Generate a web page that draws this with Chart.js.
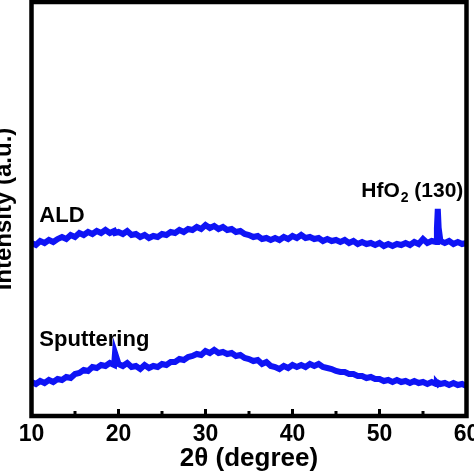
<!DOCTYPE html>
<html lang="en">

<head>
    <meta charset="UTF-8">
    <title>XRD</title>
    <script src="https://cdn.jsdelivr.net/npm/chart.js@4"></script>
    <style>
        html, body {
            margin: 0;
            padding: 0;
            background: #fff;
            overflow: hidden;
        }

        #wrap {
            width: 490px;
            height: 474px;
        }
    </style>
</head>

<body>
    <div id="wrap"><canvas id="xrd"></canvas></div>

    <script>
        // 2theta positions (degree)
        const angles = [10, 10.5, 11, 11.5, 12, 12.5, 13, 13.5, 14, 14.5, 15, 15.5, 16, 16.5, 17, 17.5, 18, 18.5, 19, 19.5, 19.6,
            20, 20.5, 21, 21.5, 22, 22.5, 23, 23.5, 24, 24.5, 25, 25.5, 26, 26.5, 27, 27.5, 28, 28.5, 29, 29.5,
            30, 30.5, 31, 31.5, 32, 32.5, 33, 33.5, 34, 34.5, 35, 35.5, 36, 36.5, 37, 37.5, 38, 38.5, 39, 39.5,
            40, 40.5, 41, 41.5, 42, 42.5, 43, 43.5, 44, 44.5, 45, 45.5, 46, 46.5, 47, 47.5, 48, 48.5, 49, 49.5,
            50, 50.5, 51, 51.5, 52, 52.5, 53, 53.5, 54, 54.5, 55, 55.5, 56, 56.5, 56.6, 56.7, 56.8,
            57, 57.5, 58, 58.5, 59, 59.5, 60];

        // intensity (a.u.), curves offset vertically
        const ald = [175, 173, 177, 175, 178, 176, 179, 181, 179, 183, 181, 185, 183, 186, 184, 187, 185, 188, 185, 187, 185,
            186, 184, 187, 183, 184, 181, 183, 180, 182, 181, 184, 183, 186, 185, 188, 186, 189, 188, 191, 189,
            193, 190, 192, 189, 191, 188, 189, 186, 187, 184, 183, 181, 182, 179, 180, 178, 180, 178, 181, 179,
            182, 180, 183, 180, 181, 179, 180, 177, 179, 177, 178, 176, 178, 175, 177, 174, 176, 174, 175, 173,
            175, 172, 174, 172, 174, 173, 175, 173, 176, 174, 179, 175, 177, 176, 190, 209, 190,
            177, 175, 177, 174, 176, 174, 175];

        const sputtering = [36, 34, 37, 35, 38, 36, 39, 38, 41, 40, 44, 45, 48, 47, 51, 50, 53, 52, 55, 53, 65,
            54, 52, 55, 51, 52, 49, 53, 50, 52, 51, 54, 53, 56, 56, 59, 58, 61, 62, 64, 63,
            67, 65, 68, 65, 66, 64, 65, 62, 63, 60, 59, 57, 58, 54, 56, 52, 51, 49, 52, 50,
            53, 51, 53, 51, 54, 52, 54, 51, 50, 49, 47, 46, 46, 44, 44, 42, 42, 40, 41, 39,
            39, 37, 38, 36, 38, 36, 37, 35, 37, 35, 36, 34, 36, 34, 35, 34, 35,
            34, 35, 33, 35, 33, 34, 32];

        const seriesNames = ['ALD', 'Sputtering'];
        const blue = 'rgb(15, 20, 245)';
        const font = 'Liberation Sans, Arial, sans-serif';

        const toPoints = (ys) => angles.map((a, i) => ({ x: a, y: ys[i] }));

        // text labels, anchored in data units
        const notes = [
            { text: 'ALD', x: 10.9, y: 196 },
            { text: 'Sputtering', x: 10.9, y: 72 }
        ];

        const framePlugin = {
            id: 'frame',
            afterDraw(chart) {
                const { ctx, chartArea: a, scales } = chart;
                const x = scales.x, y = scales.y;
                ctx.save();
                // inward ticks
                ctx.strokeStyle = '#000';
                ctx.lineWidth = 3;
                for (let v = 10; v <= 60; v += 5) {
                    const px = x.getPixelForValue(v);
                    const len = v % 10 === 0 ? 7 : 5;
                    ctx.beginPath();
                    ctx.moveTo(px, a.bottom);
                    ctx.lineTo(px, a.bottom - len);
                    ctx.stroke();
                }
                // box
                ctx.lineWidth = 4.5;
                ctx.strokeRect(a.left, a.top, a.right - a.left, a.bottom - a.top);

                // labels
                ctx.fillStyle = '#000';
                ctx.textBaseline = 'alphabetic';
                ctx.font = 'bold 22px ' + font;
                notes.forEach(n => ctx.fillText(n.text, x.getPixelForValue(n.x), y.getPixelForValue(n.y)));

                ctx.font = 'bold 21px ' + font;
                let hx = x.getPixelForValue(47.9), hy = y.getPixelForValue(221);
                ctx.fillText('HfO', hx, hy);
                hx += ctx.measureText('HfO').width;
                ctx.font = 'bold 14px ' + font;
                ctx.fillText('2', hx + 1, hy + 5);
                hx += ctx.measureText('2').width + 1;
                ctx.font = 'bold 21px ' + font;
                ctx.fillText(' (130)', hx, hy);
                ctx.restore();
            }
        };

        new Chart('xrd', {
            type: 'line',
            data: {
                datasets: [{
                    label: seriesNames[0],
                    data: toPoints(ald),
                    borderColor: blue,
                    borderWidth: 6,
                    pointRadius: 0,
                    tension: 0,
                    fill: false
                }, {
                    label: seriesNames[1],
                    data: toPoints(sputtering),
                    borderColor: blue,
                    borderWidth: 6,
                    pointRadius: 0,
                    tension: 0,
                    fill: false
                }]
            },
            options: {
                responsive: true,
                maintainAspectRatio: false,
                animation: false,
                layout: {
                    padding: { top: 2, right: 23.5, left: 0, bottom: 0 }
                },
                plugins: {
                    legend: { display: false },
                    tooltip: { enabled: false }
                },
                scales: {
                    x: {
                        type: 'linear',
                        min: 10,
                        max: 60,
                        grid: { display: false, drawTicks: false },
                        border: { display: false },
                        ticks: {
                            stepSize: 10,
                            padding: 5,
                            color: '#000',
                            maxRotation: 0,
                            font: { family: font, size: 23, weight: 'bold' }
                        },
                        title: {
                            display: true,
                            text: '2\u03b8 (degree)',
                            color: '#000',
                            padding: { top: 0, bottom: 0 },
                            font: { family: font, size: 26, weight: 'bold' }
                        },
                        afterFit(scale) { scale.height = 58; }
                    },
                    y: {
                        min: 2,
                        max: 416,
                        grid: { display: false, drawTicks: false },
                        border: { display: false },
                        ticks: { display: false },
                        title: {
                            display: true,
                            text: 'Intensity (a.u.)',
                            color: '#000',
                            padding: { top: 0, bottom: 0 },
                            font: { family: font, size: 24, weight: 'bold', lineHeight: 0.4 }
                        },
                        afterFit(scale) { scale.width = 31.5; }
                    }
                }
            },
            plugins: [framePlugin]
        });
    </script>
</body>

</html>
